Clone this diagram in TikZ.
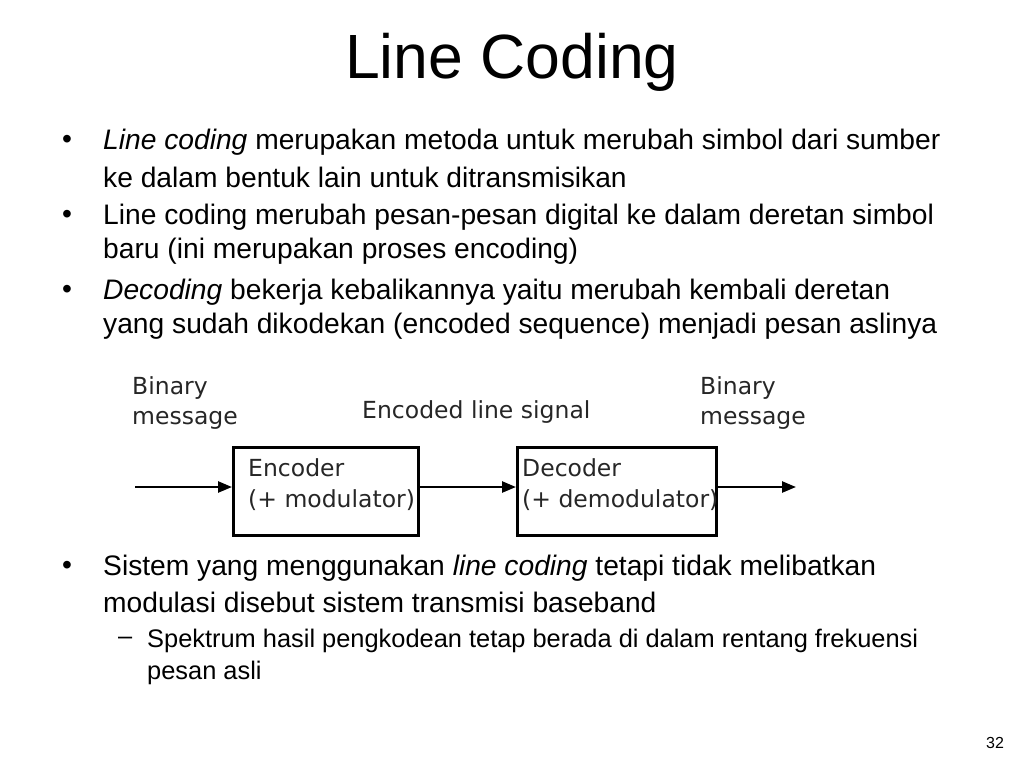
\documentclass[tikz,border=0pt]{standalone}
\usepackage{fontspec}
\setmainfont{Liberation Sans}
\newfontfamily\diag{DejaVu Sans}
\usetikzlibrary{arrows.meta}
\begin{document}
\begin{tikzpicture}[x=1pt,y=-1pt,
  txt/.style={anchor=west,inner sep=0pt,font=\fontsize{28.2}{30}\selectfont},
  sub/.style={anchor=west,inner sep=0pt,font=\fontsize{25.4}{27}\selectfont},
  dl/.style={anchor=west,inner sep=0pt,font=\diag\fontsize{23.5}{25}\selectfont,text=black!85},
  blk/.style={draw,line width=3pt,minimum width=#1,minimum height=88pt,anchor=north west},
  arr/.style={line width=2.5pt,-{Triangle[length=14pt,width=11pt]}}]
\useasboundingbox (0,0) rectangle (1024,768);
\node[font=\fontsize{62.5}{66}\selectfont] (title) at (512,62) {Line Coding};
\foreach \y/\n in {142/b1,217/b2,292/b3,568/b4} \node[txt] (\n) at (62,\y) {•};
\node[txt] (l1) at (103,142) {\textit{Line coding} merupakan metoda untuk merubah simbol dari sumber};
\node[txt] (l2) at (103,177) {ke dalam bentuk lain untuk ditransmisikan};
\node[txt] (l3) at (103,217) {Line coding merubah pesan-pesan digital ke dalam deretan simbol};
\node[txt] (l4) at (103,251) {baru (ini merupakan proses encoding)};
\node[txt] (l5) at (103,292) {\textit{Decoding} bekerja kebalikannya yaitu merubah kembali deretan};
\node[txt] (l6) at (103,326) {yang sudah dikodekan (encoded sequence) menjadi pesan aslinya};
\node[txt] (l7) at (103,568) {Sistem yang menggunakan \textit{line coding} tetapi tidak melibatkan};
\node[txt] (l8) at (103,602) {modulasi disebut sistem transmisi baseband};
\node[sub] (d1) at (118,641) {–};
\node[sub] (l9) at (147,641) {Spektrum hasil pengkodean tetap berada di dalam rentang frekuensi};
\node[sub] (l10) at (147,673) {pesan asli};
\node[font=\fontsize{16}{18}\selectfont] (pg) at (995,743) {32};
% diagram
\node[blk=185pt] (enc) at (232,446) {};
\node[blk=199pt] (dec) at (516,446) {};
\node[dl] (et1) at (248,468) {Encoder};
\node[dl] (et2) at (248,500) {(+ modulator)};
\node[dl] (dt1) at (522,468) {Decoder};
\node[dl] (dt2) at (522,500) {(+ demodulator)};
\node[dl] (bm1) at (132,388) {Binary};
\node[dl] (bm2) at (132,420) {message};
\node[dl] (bm3) at (700,388) {Binary};
\node[dl] (bm4) at (700,420) {message};
\node[dl] (els) at (362,412) {Encoded line signal};
\coordinate (in) at (135,487);
\coordinate (out) at (796,487);
\draw[arr] (in) -- (enc.west|-in);
\draw[arr] (enc.east|-in) -- (dec.west|-in);
\draw[arr] (dec.east|-in) -- (out);
\end{tikzpicture}
\end{document}
